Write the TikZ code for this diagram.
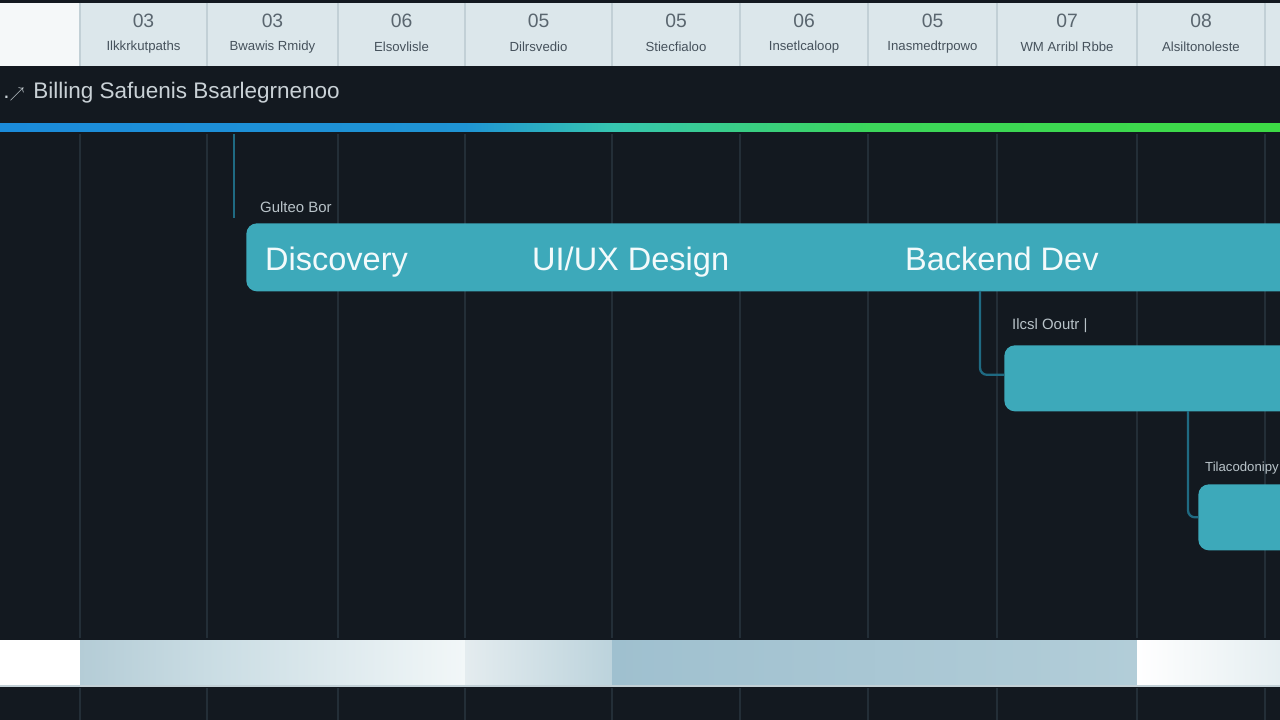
\documentclass[tikz,border=0pt]{standalone}
\usepackage{fontspec}
\setmainfont{Liberation Sans}
\definecolor{bgdark}{HTML}{131920}
\definecolor{headbg}{HTML}{DCE7EB}
\definecolor{headln}{HTML}{C2D0D6}
\definecolor{headnum}{HTML}{5A666F}
\definecolor{headtxt}{HTML}{46525C}
\definecolor{gridln}{HTML}{232E37}
\definecolor{barteal}{HTML}{3DA9BA}
\definecolor{linkblue}{HTML}{1F6A82}
\definecolor{lbltxt}{HTML}{B9C3C9}
\definecolor{titletxt}{HTML}{C9D1D6}
\definecolor{progblue}{HTML}{1B8BDA}
\definecolor{progteal}{HTML}{36C6B0}
\definecolor{proggreen}{HTML}{3DDA45}
\definecolor{footA}{HTML}{B4CCD6}
\definecolor{footB}{HTML}{C9DCE3}
\definecolor{footC}{HTML}{F2F7F8}
\definecolor{footD}{HTML}{E4ECEF}
\definecolor{footE}{HTML}{BCD3DC}
\definecolor{footF}{HTML}{9FC0CF}
\definecolor{footG}{HTML}{B2CDD8}
\definecolor{footH}{HTML}{E5EEF1}

\begin{document}
\begin{tikzpicture}[x=0.2mm, y=-0.2mm,
    bar/.style={fill=barteal, rounded corners=6pt, inner sep=0pt, anchor=north west},
    bartext/.style={text=white!94!barteal, font=\fontsize{18.5}{20}\selectfont, anchor=base west},
    tasklbl/.style={text=lbltxt, font=\fontsize{8.5}{10}\selectfont, anchor=west},
    link/.style={draw=linkblue, line width=1.3pt},
    gridline/.style={draw=gridln, line width=0.8pt}]
\useasboundingbox (0,0) rectangle (1280,720);
\clip (0,0) rectangle (1280,720);
\fill[bgdark] (0,0) rectangle (1280,720);

\fill[headbg] (0,3) rectangle (1280,66);
\fill[white!70!headbg] (0,3) rectangle (80,66);
\foreach \x in {80,207,338,465,612,740,868,997,1137,1265}
  \draw[headln, line width=0.8pt] (\x,3) -- (\x,66);
\foreach \cx/\num/\txt [count=\i] in {143.5/03/Ilkkrkutpaths, 272.5/03/Bwawis Rmidy, 401.5/06/Elsovlisle,
    538.5/05/Dilrsvedio, 676/05/Stiecfialoo, 804/06/Insetlcaloop, 932.5/05/Inasmedtrpowo,
    1067/07/WM Arribl Rbbe, 1201/08/Alsiltonoleste} {
  \node[text=headnum, font=\fontsize{11}{12}\selectfont] (num\i) at (\cx,21) {\num};
  \node[text=headtxt, font=\fontsize{7.5}{9}\selectfont] (col\i) at (\cx,47) {\txt};
}

\node[text=titletxt, font=\fontsize{12.8}{14}\selectfont, anchor=west, inner sep=0pt] (title) at (3,93) {.\raisebox{1pt}{\fontsize{8}{8}\selectfont$\nearrow$}\hspace{5pt}Billing Safuenis Bsarlegrnenoo};

\shade[left color=progblue, right color=progblue!85!progteal] (0,124) rectangle (465,132);
\shade[left color=progblue!85!progteal, right color=progteal] (465,124) rectangle (614,132);
\shade[left color=progteal, right color=proggreen!80!progteal] (614,124) rectangle (870,132);
\shade[left color=proggreen!80!progteal, right color=proggreen] (870,124) rectangle (1280,132);

\foreach \x in {80,207,338,465,612,740,868,997,1137,1265} {
  \draw[gridline] (\x,134) -- (\x,638);
  \draw[gridline] (\x,688) -- (\x,720);
}

\coordinate (top1) at (234,134);
\coordinate (end1) at (234,218);
\draw[link] (top1) -- (end1);
\node[tasklbl] (lbl1) at (254,207) {Gulteo Bor};
\node[bar, minimum width=220mm, minimum height=13.6mm] (bar1) at (246,223) {};
\node[bartext] (txt1) at (259,271) {Discovery};
\node[bartext] (txt2) at (526,271) {UI/UX Design};
\node[bartext] (txt3) at (899,271) {Backend Dev};

\node[tasklbl] (lbl2) at (1006,326) {Ilcsl Ooutr \textbar};
\node[bar, minimum width=68mm, minimum height=13.2mm] (bar2) at (1004,345) {};
\coordinate (top2) at (980,291);
\draw[link, rounded corners=4pt] (top2) |- ([yshift=2pt]bar2.west);

\node[tasklbl, font=\fontsize{7.5}{9}\selectfont] (lbl3) at (1199,468) {Tilacodonipy};
\node[bar, minimum width=28mm, minimum height=13.2mm] (bar3) at (1198,484) {};
\coordinate (top3) at (1188,411);
\draw[link, rounded corners=4pt] (top3) |- (bar3.west);

\fill[white] (0,640) rectangle (1280,686);
\shade[left color=footA, right color=footB] (80,640) rectangle (207,686);
\shade[left color=footB, right color=footC] (207,640) rectangle (465,686);
\shade[left color=footD, right color=footE] (465,640) rectangle (612,686);
\shade[left color=footF, right color=footG] (612,640) rectangle (1137,686);
\shade[left color=white, right color=footH] (1137,640) rectangle (1280,686);
\draw[headln, line width=0.8pt] (0,686) -- (1280,686);
\end{tikzpicture}
\end{document}
